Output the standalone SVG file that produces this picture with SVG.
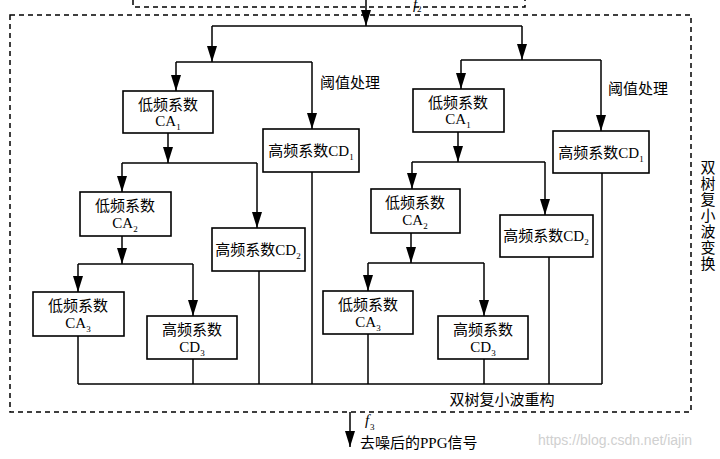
<svg xmlns="http://www.w3.org/2000/svg" width="720" height="459" viewBox="0 0 720 459">
<style>
.box{fill:#fff;stroke:#000;stroke-width:1.6}
.ln{fill:none;stroke:#000;stroke-width:1.5}
.ar{fill:none;stroke:#000;stroke-width:1.5;marker-end:url(#ah)}
.dash{fill:none;stroke:#000;stroke-width:1.5;stroke-dasharray:5 4}
text{font-family:"Liberation Serif","Noto Sans CJK SC",serif;font-size:15px;fill:#000}
.c{text-anchor:middle}
.sub{font-size:9px}
.it{font-style:italic}
.wm{font-family:"Liberation Sans",sans-serif;font-size:14px;fill:#d0d0d0}
</style>
<defs>
<marker id="ah" markerUnits="userSpaceOnUse" markerWidth="16" markerHeight="10" viewBox="0 0 16 10" refX="16" refY="5" orient="auto">
<path d="M0,0 L16,5 L0,10 Z" fill="#000"/>
</marker>
</defs>
<rect width="720" height="459" fill="#fff"/>
<g id="frames">
<polyline class="dash" points="133,0 133,7 525,7 525,0"/>
<rect class="dash" x="10" y="15" width="681" height="397"/>
<text class="it" x="413" y="9" font-size="11">f</text><text class="sub" x="417" y="12" font-size="7">2</text>
</g>
<g id="connectors">
<line class="ar" x1="366" y1="0" x2="366" y2="26"/>
<polyline class="ln" points="212,26 522,26"/>
<line class="ar" x1="212" y1="26" x2="212" y2="62"/>
<line class="ar" x1="522" y1="26" x2="522" y2="60"/>
<polyline class="ln" points="176,62 312,62"/>
<line class="ar" x1="176" y1="62" x2="176" y2="91"/>
<line class="ar" x1="312" y1="62" x2="312" y2="129"/>
<polyline class="ln" points="461,60 601,60"/>
<line class="ar" x1="461" y1="60" x2="461" y2="89"/>
<line class="ar" x1="601" y1="60" x2="601" y2="131"/>
<line class="ar" x1="168" y1="133" x2="168" y2="163"/>
<polyline class="ln" points="122,163 257,163"/>
<line class="ar" x1="122" y1="163" x2="122" y2="192"/>
<line class="ar" x1="257" y1="163" x2="257" y2="228"/>
<line class="ar" x1="122" y1="236" x2="122" y2="264"/>
<polyline class="ln" points="78,264 193,264"/>
<line class="ar" x1="78" y1="264" x2="78" y2="292"/>
<line class="ar" x1="193" y1="264" x2="193" y2="316"/>
<line class="ar" x1="458" y1="132" x2="458" y2="162"/>
<polyline class="ln" points="412,162 545,162"/>
<line class="ar" x1="412" y1="162" x2="412" y2="189"/>
<line class="ar" x1="545" y1="162" x2="545" y2="215"/>
<line class="ar" x1="411" y1="233" x2="411" y2="263"/>
<polyline class="ln" points="368,263 484,263"/>
<line class="ar" x1="368" y1="263" x2="368" y2="291"/>
<line class="ar" x1="484" y1="263" x2="484" y2="316"/>
<line class="ln" x1="78" y1="336" x2="78" y2="384"/>
<line class="ln" x1="193" y1="359" x2="193" y2="384"/>
<line class="ln" x1="259" y1="271" x2="259" y2="384"/>
<line class="ln" x1="312" y1="172" x2="312" y2="384"/>
<line class="ln" x1="368" y1="334" x2="368" y2="384"/>
<line class="ln" x1="484" y1="359" x2="484" y2="384"/>
<line class="ln" x1="549" y1="257" x2="549" y2="384"/>
<line class="ln" x1="602" y1="173" x2="602" y2="384"/>
<line class="ln" x1="78" y1="384" x2="602" y2="384"/>
<line class="ar" x1="350" y1="412" x2="350" y2="447"/>
</g>
<g id="L_CA1"><rect class="box" x="123" y="91" width="90" height="42"/><text class="c" x="168" y="110">低频系数</text><text class="c" x="168" y="126">CA<tspan class="sub" dy="4">1</tspan></text></g>
<g id="L_CD1"><rect class="box" x="263" y="129" width="96" height="43"/><text class="c" x="311" y="156">高频系数CD<tspan class="sub" dy="4">1</tspan></text></g>
<g id="L_CA2"><rect class="box" x="80" y="192" width="91" height="44"/><text class="c" x="125" y="211">低频系数</text><text class="c" x="125" y="228">CA<tspan class="sub" dy="4">2</tspan></text></g>
<g id="L_CD2"><rect class="box" x="212" y="228" width="93" height="43"/><text class="c" x="258" y="255">高频系数CD<tspan class="sub" dy="4">2</tspan></text></g>
<g id="L_CA3"><rect class="box" x="33" y="292" width="91" height="44"/><text class="c" x="78" y="311">低频系数</text><text class="c" x="78" y="328">CA<tspan class="sub" dy="4">3</tspan></text></g>
<g id="L_CD3"><rect class="box" x="147" y="316" width="90" height="43"/><text class="c" x="192" y="335">高频系数</text><text class="c" x="192" y="352">CD<tspan class="sub" dy="4">3</tspan></text></g>
<g id="R_CA1"><rect class="box" x="413" y="89" width="91" height="43"/><text class="c" x="458" y="108">低频系数</text><text class="c" x="458" y="124">CA<tspan class="sub" dy="4">1</tspan></text></g>
<g id="R_CD1"><rect class="box" x="553" y="131" width="96" height="42"/><text class="c" x="601" y="158">高频系数CD<tspan class="sub" dy="4">1</tspan></text></g>
<g id="R_CA2"><rect class="box" x="371" y="189" width="89" height="44"/><text class="c" x="415" y="208">低频系数</text><text class="c" x="415" y="225">CA<tspan class="sub" dy="4">2</tspan></text></g>
<g id="R_CD2"><rect class="box" x="500" y="215" width="93" height="42"/><text class="c" x="546" y="241">高频系数CD<tspan class="sub" dy="4">2</tspan></text></g>
<g id="R_CA3"><rect class="box" x="323" y="291" width="90" height="43"/><text class="c" x="368" y="310">低频系数</text><text class="c" x="368" y="327">CA<tspan class="sub" dy="4">3</tspan></text></g>
<g id="R_CD3"><rect class="box" x="438" y="316" width="90" height="43"/><text class="c" x="483" y="335">高频系数</text><text class="c" x="483" y="352">CD<tspan class="sub" dy="4">3</tspan></text></g>
<g id="labels">
<text x="320" y="88">阈值处理</text>
<text x="608" y="94">阈值处理</text>
<text class="c" x="502" y="405">双树复小波重构</text>
<text class="c" x="708"><tspan x="708" y="173">双</tspan><tspan x="708" y="189">树</tspan><tspan x="708" y="205">复</tspan><tspan x="708" y="221">小</tspan><tspan x="708" y="237">波</tspan><tspan x="708" y="253">变</tspan><tspan x="708" y="269">换</tspan></text>
<text class="it" x="365" y="425" font-size="14">f</text><text class="sub" x="370" y="430">3</text>
<text x="360" y="448">去噪后的PPG信号</text>
<text class="wm" x="538" y="445">https://blog.csdn.net/iajin</text>
</g>
</svg>
